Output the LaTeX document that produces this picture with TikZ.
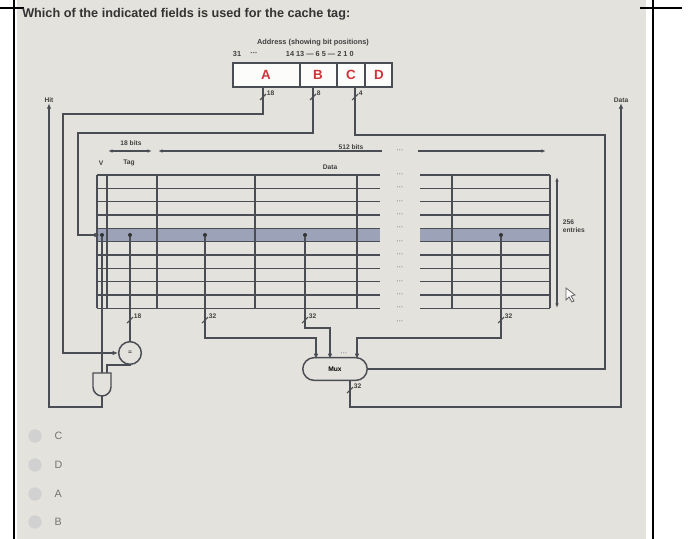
\documentclass[tikz,border=0pt]{standalone}
\usepackage{fontspec}
\setmainfont{Liberation Sans}
\usetikzlibrary{arrows.meta,shapes.misc}
\definecolor{bg}{HTML}{E4E2DC}
\definecolor{wire}{HTML}{4A4D54}
\definecolor{hil}{HTML}{9CA3B8}
\definecolor{fld}{HTML}{D0343A}
\newcommand\busmark[3]{\draw[wire,line width=0.8pt] ([shift={(-3,3)}]#1) -- ([shift={(3,-3)}]#1); \node[lbl,anchor=west] (#2) at ([shift={(3,-4)}]#1) {#3};}
\begin{document}
\begin{tikzpicture}[x=0.75pt,y=-0.75pt,
  w/.style={wire,line width=1.1pt},
  lbl/.style={font=\fontsize{5}{6}\selectfont\bfseries,text=black!75,inner sep=0.5pt},
  tl/.style={draw=wire,line width=0.9pt},
  arr/.style={w,-{Latex[length=4pt,width=3.5pt]}},
  dotc/.style={circle,fill=black!80,inner sep=0pt,minimum size=3pt}]
\useasboundingbox (0,0) rectangle (700,539);
\fill[white] (0,0) rectangle (700,539);
\fill[bg] (17,0) rectangle (646,539);
\draw[line width=1.5pt] (14,0) -- (14,539);
\draw[line width=1.5pt] (0,8) -- (24,8);
\draw[line width=1.5pt] (653,0) -- (653,539);
\draw[line width=1.2pt] (640,8) -- (682,8);
\node[anchor=west,font=\fontsize{9.5}{11}\selectfont\bfseries,text=black!80,inner sep=0] (title) at (22,14) {Which of the indicated fields is used for the cache tag:};
% address
\node[lbl,font=\fontsize{5.5}{6}\selectfont\bfseries] (addr) at (313,43) {Address (showing bit positions)};
\node[lbl,font=\fontsize{5.5}{6}\selectfont\bfseries] (b31) at (237,54) {31};
\node[lbl,font=\fontsize{5.5}{6}\selectfont\bfseries] (bdots) at (254,54) {···};
\node[lbl,font=\fontsize{5.5}{6}\selectfont\bfseries,anchor=west] (bits) at (285,54) {14 13 --- 6 5 --- 2 1 0};
\draw[draw=wire,line width=1.1pt,fill=white!90!bg] (233,63) rectangle (392,87);
\draw[w] (300,63) -- (300,87) (337,63) -- (337,87) (365,63) -- (365,87);
\node[text=fld,font=\fontsize{10}{11}\selectfont\bfseries] (A) at (266,75) {A};
\node[text=fld,font=\fontsize{10}{11}\selectfont\bfseries] (B) at (318,75) {B};
\node[text=fld,font=\fontsize{10}{11}\selectfont\bfseries] (C) at (351,75) {C};
\node[text=fld,font=\fontsize{10}{11}\selectfont\bfseries] (D) at (379,75) {D};
\coordinate (Abot) at (263,87); \coordinate (Bbot) at (313,87); \coordinate (Cbot) at (355,87);
% table
\fill[hil] (97,228.3) rectangle (380,241.7); \fill[hil] (420,228.3) rectangle (550,241.7);
\foreach \k in {0,...,10}{\draw[tl] (97,175+13.33*\k) -- (380,175+13.33*\k); \draw[tl] (420,175+13.33*\k) -- (550,175+13.33*\k);}
\foreach \xx in {97,107,157,255,357,452,550}{\draw[tl] (\xx,175) -- (\xx,308.3);}
\foreach \k in {0,...,10}{\node[lbl,text=black!45] at (400,175+13.33*\k) {···};}
\node[lbl,text=black!45] (dtop) at (400,151) {···};
\node[lbl,text=black!45] (dbot) at (400,322) {···};
\node[lbl] (V) at (101,163) {V};
\node[lbl] (Tag) at (129,163) {Tag};
\node[lbl] (Data) at (330,167) {Data};
\node[lbl] (b18) at (131,143) {18 bits};
\node[lbl] (b512) at (351,147) {512 bits};
\draw[w,line width=0.9pt,{Latex[length=3.5pt]}-{Latex[length=3.5pt]}] (108,151) -- (152,151);
\draw[w,line width=0.9pt,{Latex[length=3.5pt]}-] (158,151) -- (382,151);
\draw[w,line width=0.9pt,-{Latex[length=3.5pt]}] (418,151) -- (546,151);
\draw[w,line width=0.9pt,{Latex[length=3.5pt]}-{Latex[length=3.5pt]}] (557,177) -- (557,308);
\node[lbl,anchor=west,align=left] (ent) at (562,226) {256\\entries};
% dots in highlighted row
\node[dotc] (dv) at (102,235) {};
\node[dotc] (dt) at (130,235) {};
\node[dotc] (d1) at (205,235) {};
\node[dotc] (d2) at (305,235) {};
\node[dotc] (d3) at (501,235) {};
% comparator, and, mux
\node[circle,draw=wire,line width=1.1pt,fill=bg,minimum size=17pt,inner sep=0,font=\fontsize{5}{6}\selectfont] (cmp) at (130,353) {=};
\draw[w,fill=bg] (93,373) -- (93,387) arc[start angle=180,end angle=0,radius=9] -- (111,373) -- cycle;
\coordinate (andtop) at (102,373); \coordinate (andbot) at (102,396);
\node[draw=wire,line width=1.1pt,rounded rectangle,minimum width=55pt,minimum height=17pt,fill=bg,font=\fontsize{5}{6}\selectfont\bfseries] (mux) at (335,369) {Mux};
\node[lbl,text=black!45] (mdots) at (344,354) {···};
\coordinate (muxout) at (350,380);
% labels Hit, Data
\node[lbl] (Hit) at (49,100) {Hit};
\node[lbl] (DataOut) at (621,100) {Data};
% wires
\draw[arr] (Abot) -- (263,114) -- (63,114) -- (63,353) -- (cmp.west);
\draw[arr] (Bbot) -- (313,133) -- (78,133) -- (78,235) -- (dv.west);
\draw[w] (Cbot) -- (355,135) -- (605,135) -- (605,369) -- (mux.east);
\draw[w] (dt) -- (cmp.north);
\draw[w] (dv) -- (andtop);
\draw[w] (cmp.south) -- (130,365) -- (107,365) -- (107,373);
\draw[arr] (andbot) -- (102,407) -- (49,407) -- (Hit.south);
\draw[arr] (d1) -- (205,338) -- (316,338) -- (316,359);
\draw[arr] (d2) -- (305,328) -- (330,328) -- (330,359);
\draw[arr] (d3) -- (501,338) -- (357,338) -- (357,359);
\draw[arr] (muxout) -- (350,407) -- (621,407) -- (DataOut.south);
\busmark{263,97}{l18a}{18}
\busmark{313,97}{l8}{8}
\busmark{355,97}{l4}{4}
\busmark{130,320}{l18b}{18}
\busmark{205,320}{l32a}{32}
\busmark{305,320}{l32b}{32}
\busmark{501,320}{l32c}{32}
\busmark{350,390}{l32d}{32}
% cursor
\draw[black!60,line width=0.6pt,fill=white] (566,288) -- (566,300) -- (569,297) -- (572,302) -- (574,301) -- (571,296) -- (575,295) -- cycle;
% options
\foreach \t/\yy in {C/436,D/465,A/494,B/522}{
  \node[circle,fill=black!18,minimum size=10pt,inner sep=0] (r\t) at (35,\yy) {};
  \node[anchor=west,font=\fontsize{8}{9}\selectfont,text=black!55] (o\t) at (50,\yy) {\t};}
\end{tikzpicture}
\end{document}
